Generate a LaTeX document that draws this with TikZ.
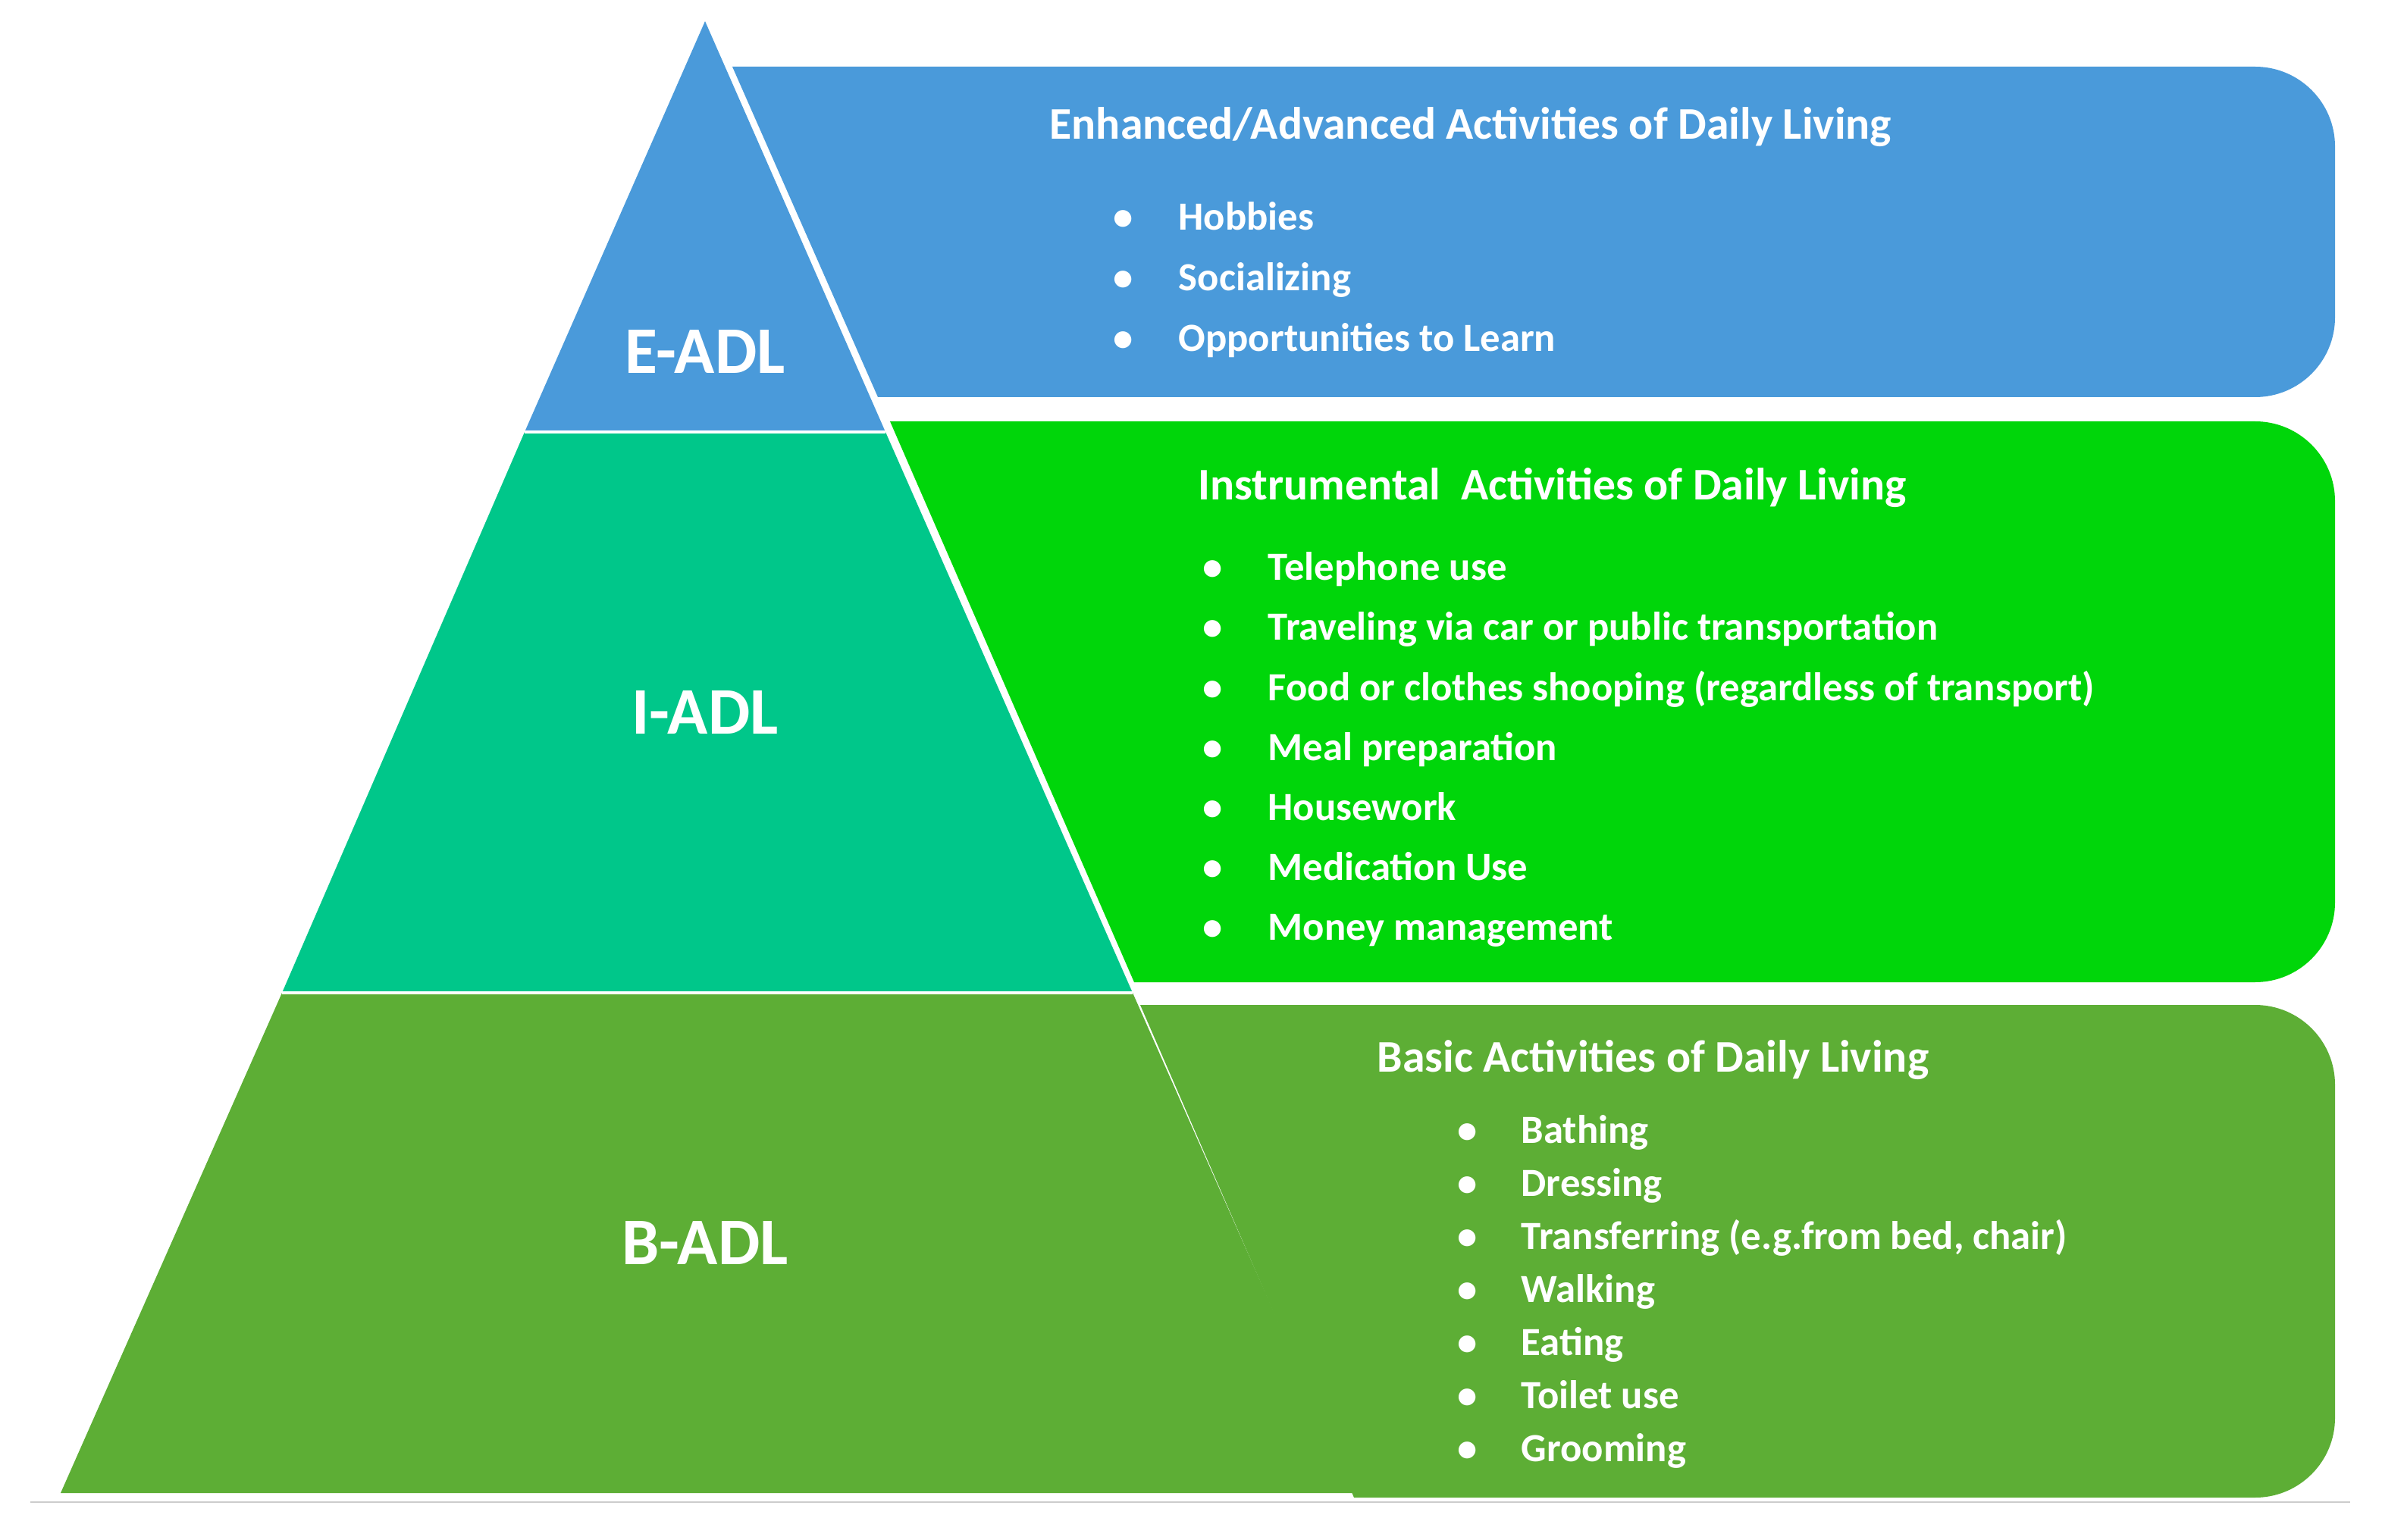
\documentclass[tikz,border=0pt]{standalone}
\usepackage{fontspec}
\setmainfont{Carlito}
\begin{document}
\begin{tikzpicture}[x=0.02cm,y=-0.02cm,
  ttl/.style={anchor=base west,text=white,font=\bfseries\fontsize{17}{20}\selectfont,inner sep=0},
  itm/.style={anchor=base west,text=white,font=\bfseries\fontsize{15}{18}\selectfont,inner sep=0},
  bul/.style={anchor=base,text=white,font=\bfseries\fontsize{15}{18}\selectfont,inner sep=0},
  lvl/.style={text=white,font=\bfseries\fontsize{25}{30}\selectfont}]
\definecolor{eblue}{HTML}{4A9ADA}
\definecolor{iteal}{HTML}{00C78A}
\definecolor{igreen}{HTML}{00D60A}
\definecolor{bgreen}{HTML}{5DAE35}
\useasboundingbox (0,0) rectangle (1571,1016);
\fill[white] (0,0) rectangle (1571,1016);
% pyramid
\fill[eblue] (465,14) -- (584,285) -- (346,285) -- cycle;
\fill[iteal] (346,285) -- (584,285) -- (747,655) -- (186,655) -- cycle;
\fill[bgreen] (186,655) -- (747,655) -- (893,985) -- (40,985) -- cycle;
\draw[white,line width=1.2pt] (346,285) -- (584,285) (186,655) -- (747,655);
% boxes
\fill[eblue] (483,44) [rounded corners=30]-- (1540,44) -- (1540,262) [sharp corners]-- (579,262) -- cycle;
\fill[igreen] (587,278) [rounded corners=30]-- (1540,278) -- (1540,648) [sharp corners]-- (748,648) -- cycle;
\fill[bgreen] (752,663) [rounded corners=30]-- (1540,663) -- (1540,988) [sharp corners]-- (893,988) -- cycle;
\draw[gray!40,line width=0.6pt] (20,991) -- (1550,991);
% labels
\node[lvl] (e) at (465,232) {E-ADL};
\node[lvl] (i) at (465,470) {I-ADL};
\node[lvl] (b) at (465,820) {B-ADL};
\node[ttl] (et) at (692,92) {Enhanced/Advanced Activities of Daily Living};
\foreach \t [count=\k] in {Hobbies,Socializing,Opportunities to Learn}{
  \node[bul] (eb\k) at (741,{112+40*\k}) {•};
  \node[itm] (ei\k) at (777,{112+40*\k}) {\t};}
\node[ttl] (it) at (790,330) {Instrumental\ \ Activities of Daily Living};
\foreach \t [count=\k] in {Telephone use,Traveling via car or public transportation,Food or clothes shooping (regardless of transport),Meal preparation,Housework,Medication Use,Money management}{
  \node[bul] (ib\k) at (800,{343.5+39.5*\k}) {•};
  \node[itm] (ii\k) at (836,{343.5+39.5*\k}) {\t};}
\node[ttl] (bt) at (908,707) {Basic Activities of Daily Living};
\foreach \t [count=\k] in {Bathing,Dressing,{Transferring (e.g.from bed, chair)},Walking,Eating,Toilet use,Grooming}{
  \node[bul] (bb\k) at (968,{719+35*\k}) {•};
  \node[itm] (bi\k) at (1003,{719+35*\k}) {\t};}
\end{tikzpicture}
\end{document}
